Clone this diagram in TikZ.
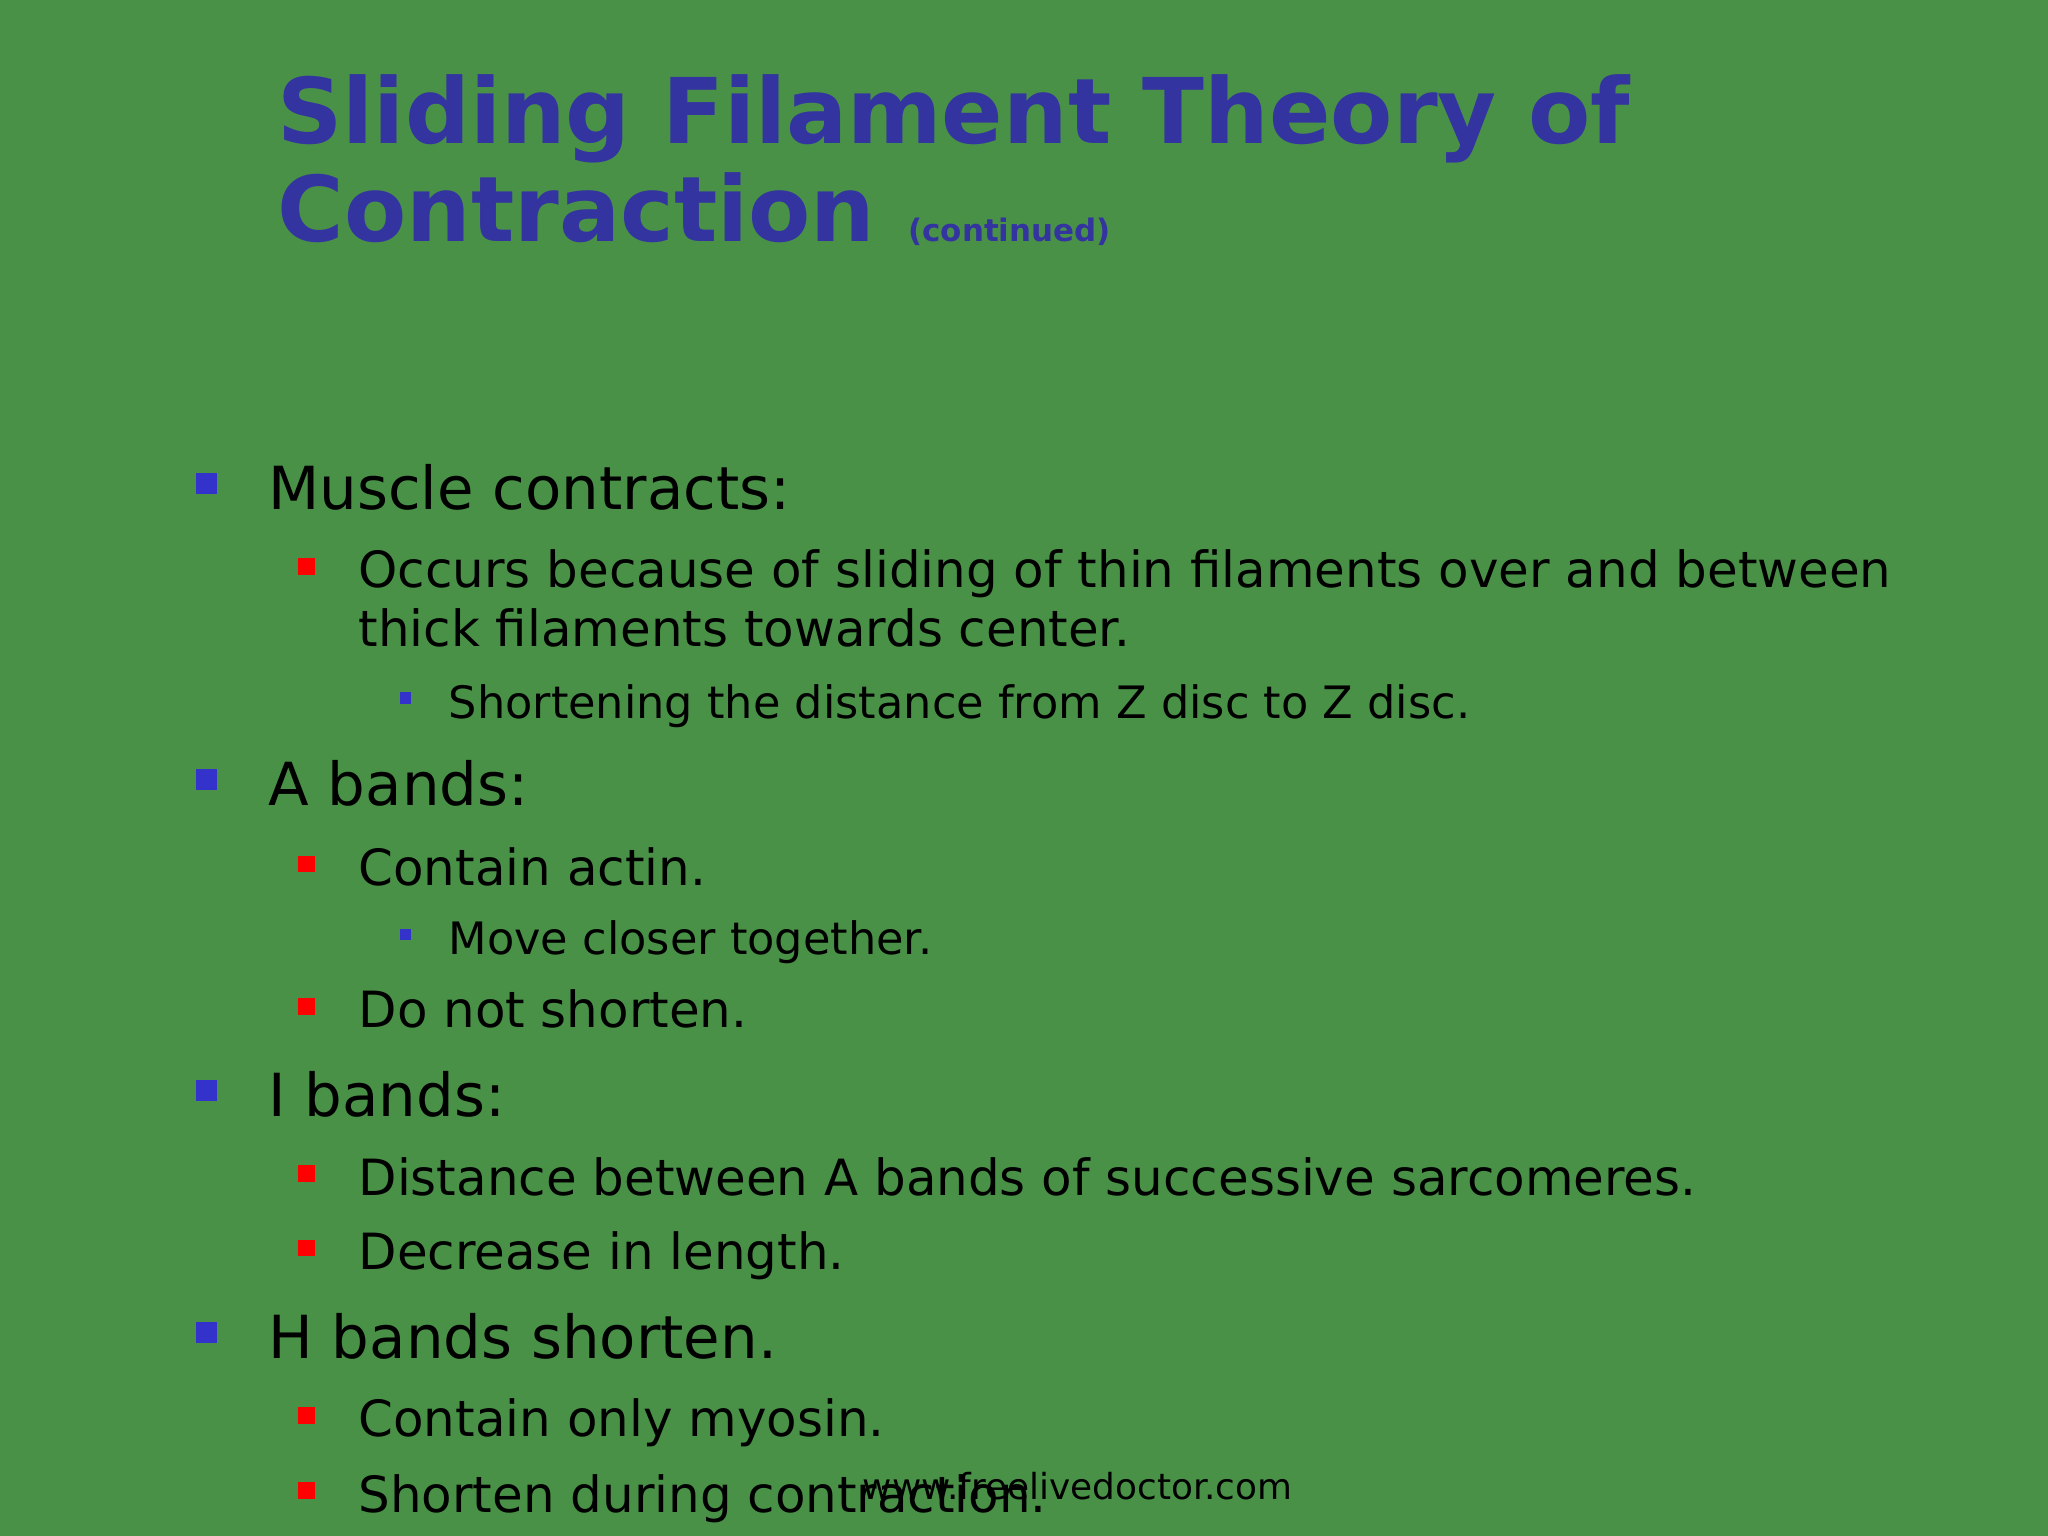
\documentclass[tikz,border=0pt]{standalone}
\usepackage{fontspec}
\setmainfont{DejaVu Sans}
\begin{document}
\begin{tikzpicture}[x=0.01306cm,y=-0.01306cm,
  t/.style={anchor=base west,inner sep=0pt,text=black},
  la/.style={t,font=\fontsize{16.9}{19}\selectfont},
  lb/.style={t,font=\fontsize{14.2}{16}\selectfont},
  lc/.style={t,font=\fontsize{12.7}{14}\selectfont},
  ttl/.style={anchor=base west,inner sep=0pt,text=titleblue,font=\bfseries\fontsize{25.8}{28}\selectfont}]
\definecolor{bg}{HTML}{4A9148}
\definecolor{titleblue}{HTML}{3434A0}
\definecolor{bblue}{HTML}{3333CC}
\fill[bg] (0,0) rectangle (1568,1176);
\useasboundingbox (0,0) rectangle (1568,1176);
\node[ttl] (t1) at (212,110) {Sliding Filament Theory of};
\node[ttl] (t2) at (212,185) {Contraction};
\node[anchor=base west,inner sep=0pt,text=titleblue,font=\bfseries\fontsize{8.8}{10}\selectfont] (t3) at (695,185) {(continued)};
\newcommand{\ba}[1]{\fill[bblue] (150,#1-28) rectangle (166,#1-12);}
\newcommand{\bb}[1]{\fill[red] (228,#1-23) rectangle (241,#1-10);}
\newcommand{\bc}[1]{\fill[bblue] (306,#1-20) rectangle (315,#1-11);}
\ba{390}\node[la] (a1) at (205,390) {Muscle contracts:};
\bb{450}\node[lb] (b1) at (274,450) {Occurs because of sliding of thin filaments over and between};
\node[lb] (b1b) at (274,495) {thick filaments towards center.};
\bc{550}\node[lc] (c1) at (343,550) {Shortening the distance from Z disc to Z disc.};
\ba{617}\node[la] (a2) at (205,617) {A bands:};
\bb{678}\node[lb] (b2) at (274,678) {Contain actin.};
\bc{731}\node[lc] (c2) at (343,731) {Move closer together.};
\bb{787}\node[lb] (b3) at (274,787) {Do not shorten.};
\ba{855}\node[la] (a3) at (205,855) {I bands:};
\bb{915}\node[lb] (b4) at (274,915) {Distance between A bands of successive sarcomeres.};
\bb{972}\node[lb] (b5) at (274,972) {Decrease in length.};
\ba{1040}\node[la] (a4) at (205,1040) {H bands shorten.};
\bb{1100}\node[lb] (b6) at (274,1100) {Contain only myosin.};
\bb{1158}\node[lb] (b7) at (274,1158) {Shorten during contraction.};
\node[anchor=base west,inner sep=0pt,font=\fontsize{10.2}{12}\selectfont] (w) at (660,1148) {www.freelivedoctor.com};
\end{tikzpicture}
\end{document}
